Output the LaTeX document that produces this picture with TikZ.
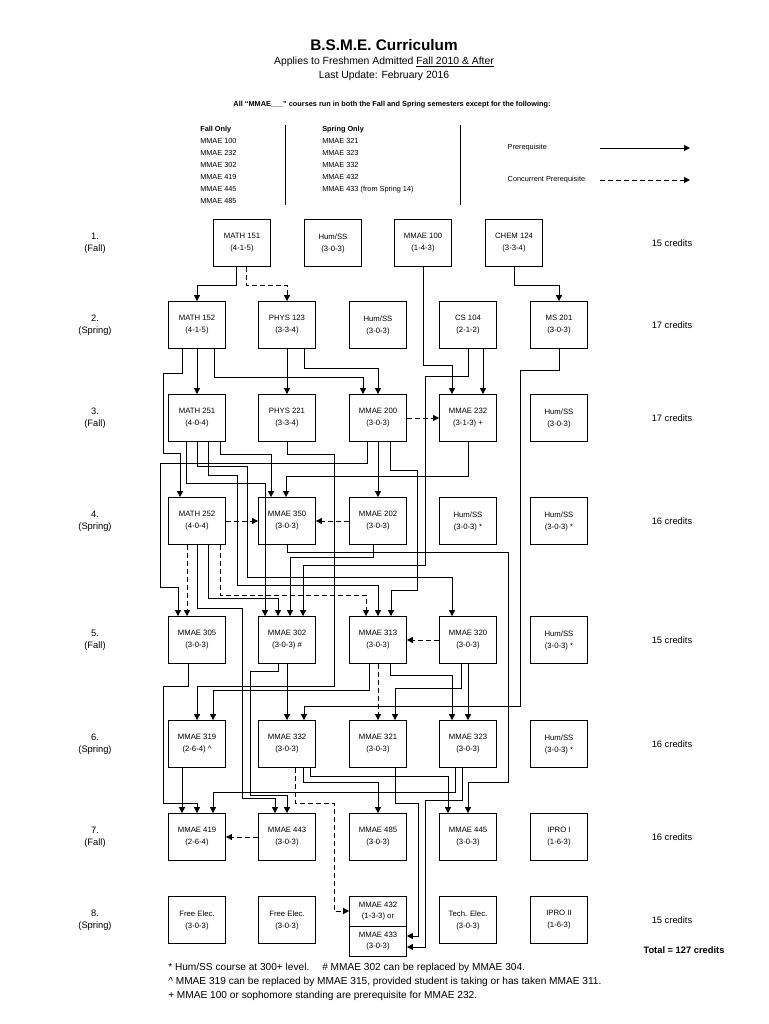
\documentclass[tikz,border=0pt]{standalone}
\usepackage{fontspec}
\setmainfont{Liberation Sans}
\usetikzlibrary{arrows.meta}
\newdimen\pxu \pxu=0.75pt
\newcommand\Bot[2]{([xshift=#2\pxu]#1.south)}
\newcommand\Top[2]{([xshift=#2\pxu]#1.north)}
\tikzset{
 course/.style={draw,line width=0.6pt,minimum width=42.75pt,minimum height=35.25pt,align=center,font=\fontsize{5.8}{9}\selectfont,inner sep=1pt},
 half/.style={draw,line width=0.6pt,minimum width=42.75pt,minimum height=22.5pt,align=center,font=\fontsize{5.8}{8}\selectfont,inner sep=1pt},
 pre/.style={-{Triangle[length=4.5pt,width=4.5pt]},line width=0.7pt},
 con/.style={pre,dashed,dash pattern=on 3.5pt off 2.5pt},
 lbl/.style={align=center,font=\fontsize{7}{9}\selectfont},
 cred/.style={font=\fontsize{7}{9}\selectfont},
}
\begin{document}
\begin{tikzpicture}[x=0.75pt,y=-0.75pt]
\useasboundingbox (0,0) rectangle (768,1024);
% header
\node[font=\bfseries\fontsize{11.5}{13}\selectfont] (title) at (384,45) {B.S.M.E. Curriculum};
\node[font=\fontsize{7.8}{9}\selectfont] (sub1) at (384,62) {Applies to Freshmen Admitted \underline{Fall 2010 \& After}};
\node[font=\fontsize{7.8}{9}\selectfont] (sub2) at (384,76) {Last Update: February 2016};
\node[font=\bfseries\fontsize{5.5}{7}\selectfont] (allnote) at (392,105) {All ``MMAE\_\_\_'' courses run in both the Fall and Spring semesters except for the following:};
\node[anchor=north west,align=left,font=\fontsize{5.5}{9}\selectfont,inner sep=0] (fall) at (200,126) {\textbf{Fall Only}\\MMAE 100\\MMAE 232\\MMAE 302\\MMAE 419\\MMAE 445\\MMAE 485};
\node[anchor=north west,align=left,font=\fontsize{5.5}{9}\selectfont,inner sep=0] (spring) at (322,126) {\textbf{Spring Only}\\MMAE 321\\MMAE 323\\MMAE 332\\MMAE 432\\MMAE 433 (from Spring 14)};
\draw[line width=0.5pt] (285,125) coordinate (s1a) -- (285,205) coordinate (s1b);
\draw[line width=0.5pt] (460,125) coordinate (s2a) -- (460,205) coordinate (s2b);
\node[anchor=west,font=\fontsize{5.5}{7}\selectfont] (lp) at (503,148) {Prerequisite};
\node[anchor=west,font=\fontsize{5.5}{7}\selectfont] (lc) at (503,180) {Concurrent Prerequisite};
\coordinate (la) at (600,148); \coordinate (lb) at (690,148);
\coordinate (lc1) at (600,180); \coordinate (lc2) at (690,180);
\draw[pre] (la) -- (lb);
\draw[con] (lc1) -- (lc2);
% rows labels
\foreach \n/\s/\y/\c in {1/Fall/243/15,2/Spring/325/17,3/Fall/418/17,4/Spring/521/16,5/Fall/640/15,6/Spring/744/16,7/Fall/837/16,8/Spring/920/15}{
 \node[lbl] (r\n) at (95,\y) {\n.\\(\s)};
 \node[cred] (c\n) at (672,\y) {\c\ credits};
}
\node[font=\bfseries\fontsize{7}{9}\selectfont] (total) at (684,950) {Total = 127 credits};
% courses
\node[course] (m151) at (242,243) {MATH 151\\(4-1-5)};
\node[course] (h1) at (333,243) {Hum/SS\\(3-0-3)};
\node[course] (m100) at (423,243) {MMAE 100\\(1-4-3)};
\node[course] (c124) at (514,243) {CHEM 124\\(3-3-4)};
\node[course] (m152) at (197,325) {MATH 152\\(4-1-5)};
\node[course] (p123) at (287,325) {PHYS 123\\(3-3-4)};
\node[course] (h2) at (378,325) {Hum/SS\\(3-0-3)};
\node[course] (cs104) at (468,325) {CS 104\\(2-1-2)};
\node[course] (ms201) at (559,325) {MS 201\\(3-0-3)};
\node[course] (m251) at (197,418) {MATH 251\\(4-0-4)};
\node[course] (p221) at (287,418) {PHYS 221\\(3-3-4)};
\node[course] (m200) at (378,418) {MMAE 200\\(3-0-3)};
\node[course] (m232) at (468,418) {MMAE 232\\(3-1-3) +};
\node[course] (h3) at (559,418) {Hum/SS\\(3-0-3)};
\node[course] (m252) at (197,521) {MATH 252\\(4-0-4)};
\node[course] (m350) at (287,521) {MMAE 350\\(3-0-3)};
\node[course] (m202) at (378,521) {MMAE 202\\(3-0-3)};
\node[course] (h4a) at (468,521) {Hum/SS\\(3-0-3) *};
\node[course] (h4b) at (559,521) {Hum/SS\\(3-0-3) *};
\node[course] (m305) at (197,640) {MMAE 305\\(3-0-3)};
\node[course] (m302) at (287,640) {MMAE 302\\(3-0-3) \#};
\node[course] (m313) at (378,640) {MMAE 313\\(3-0-3)};
\node[course] (m320) at (468,640) {MMAE 320\\(3-0-3)};
\node[course] (h5) at (559,640) {Hum/SS\\(3-0-3) *};
\node[course] (m319) at (197,744) {MMAE 319\\(2-6-4) \^{}};
\node[course] (m332) at (287,744) {MMAE 332\\(3-0-3)};
\node[course] (m321) at (378,744) {MMAE 321\\(3-0-3)};
\node[course] (m323) at (468,744) {MMAE 323\\(3-0-3)};
\node[course] (h6) at (559,744) {Hum/SS\\(3-0-3) *};
\node[course] (m419) at (197,837) {MMAE 419\\(2-6-4)};
\node[course] (m443) at (287,837) {MMAE 443\\(3-0-3)};
\node[course] (m485) at (378,837) {MMAE 485\\(3-0-3)};
\node[course] (m445) at (468,837) {MMAE 445\\(3-0-3)};
\node[course] (ipro1) at (559,837) {IPRO I\\(1-6-3)};
\node[course] (fe1) at (197,920) {Free Elec.\\(3-0-3)};
\node[course] (fe2) at (287,920) {Free Elec.\\(3-0-3)};
\node[half] (m432) at (378,911) {MMAE 432\\(1-3-3) or};
\node[half] (m433) at (378,941) {MMAE 433\\(3-0-3)};
\node[course] (te) at (468,920) {Tech. Elec.\\(3-0-3)};
\node[course] (ipro2) at (559,920) {IPRO II\\(1-6-3)};
% connectors
\draw[pre] \Bot{m151}{-6} |- (197,285) -- \Top{m152}{0};
\draw[con] \Bot{m151}{4} |- (287,285) -- \Top{p123}{0};
\draw[pre] \Bot{m100}{0} |- (452,365) -- \Top{m232}{-16};
\draw[pre] \Bot{c124}{0} |- (559,285) -- \Top{ms201}{0};
\draw[pre] \Bot{m152}{0} -- \Top{m251}{0};
\draw[pre] \Bot{m152}{-15} |- (163,373) |- (180,453) -- \Top{m252}{-17};
\draw[pre] \Bot{m152}{17} |- (363,377) -- \Top{m200}{-15};
\draw[pre] \Bot{p123}{0} -- \Top{p221}{0};
\draw[pre] \Bot{p123}{17} |- (378,368) -- \Top{m200}{0};
\draw[pre] \Bot{cs104}{15} -- \Top{m232}{15};
\draw[pre] \Bot{cs104}{0} |- (425,376) |- (303,565) -- \Top{m302}{16};
\draw[pre] \Bot{ms201}{0} |- (520,370) |- (304,706) -- \Top{m332}{17};
\draw[con] (m200.east) -- (m232.west);
\draw[pre] \Bot{m251}{-11} |- (265,483) -- \Top{m302}{-22};
\draw[pre] \Bot{m251}{0} |- (247,466) |- (452,577) -- \Top{m320}{-16};
\draw[pre] \Bot{m251}{11} |- (237,475) |- (378,585) -- \Top{m313}{0};
\draw[pre] \Bot{m251}{23} |- (271,454) -- \Top{m350}{-16};
\draw[pre] \Bot{p221}{0} |- (334,454) |- (197,686) -- \Top{m319}{0};
\draw[pre] \Bot{m200}{-11} |- (160,463) |- (178,587) -- \Top{m305}{-19};
\draw[pre] \Bot{m200}{0} -- \Top{m202}{0};
\draw[pre] \Bot{m200}{12} |- (417,470) |- (391,590) -- \Top{m313}{13};
\draw[pre] \Bot{m232}{0} |- (286,476) -- \Top{m350}{-1};
\draw[con] \Bot{m252}{-10} -- \Top{m305}{-10};
\draw[pre] \Bot{m252}{0} |- (242,608) |- (275,798) -- \Top{m443}{-12};
\draw[pre] \Bot{m252}{11} |- (278,598) -- \Top{m302}{-9};
\draw[con] \Bot{m252}{23} |- (366,595) -- \Top{m313}{-12};
\draw[con] (m252.east) -- (m350.west);
\draw[con] (m202.west) -- (m350.east);
\draw[pre] \Bot{m350}{0} |- (508,552) |- (468,782) -- \Top{m445}{0};
\draw[pre] \Bot{m202}{-5} |- (290,557) -- \Top{m302}{3};
\draw[con] (m320.west) -- (m313.east);
\draw[con] \Bot{m313}{0} -- \Top{m321}{0};
\draw[pre] \Bot{m313}{12} |- (452,675) -- \Top{m323}{-16};
\draw[pre] \Bot{m313}{-9} |- (213,690) -- \Top{m319}{16};
\draw[pre] \Bot{m320}{-7} |- (395,688) -- \Top{m321}{17};
\draw[pre] \Bot{m320}{0} -- \Top{m323}{0};
\draw[pre] \Bot{m302}{0} -- \Top{m332}{0};
\draw[pre] \Bot{m302}{-9} |- (250,671) |- (287,795) -- \Top{m443}{0};
\draw[pre] \Bot{m305}{-9} |- (163,686) |- (197,803) -- \Top{m419}{0};
\draw[pre] \Bot{m319}{-15} -- \Top{m419}{-15};
\draw[con] \Bot{m332}{8} |- (334,803) |- (m432.west);
\draw[pre] \Bot{m332}{16} |- (378,782) -- \Top{m485}{0};
\draw[pre] \Bot{m332}{23} |- (448,776) -- \Top{m445}{-20};
\draw[pre] \Bot{m321}{17} |- (418,803) |- ([yshift=5\pxu]m433.east);
\draw[pre] \Bot{m323}{-6} |- (425,800) |- ([yshift=-6\pxu]m433.east);
\draw[pre] \Bot{m323}{-13} |- (213,792) -- \Top{m419}{16};
\draw[con] (m443.west) -- (m419.east);
% footnotes
\node[anchor=west,align=left,font=\fontsize{7.6}{10.5}\selectfont,inner sep=0] (notes) at (168,982) {* Hum/SS course at 300+ level.\quad\ \# MMAE 302 can be replaced by MMAE 304.\\\^{} MMAE 319 can be replaced by MMAE 315, provided student is taking or has taken MMAE 311.\\+ MMAE 100 or sophomore standing are prerequisite for MMAE 232.};
\end{tikzpicture}
\end{document}
